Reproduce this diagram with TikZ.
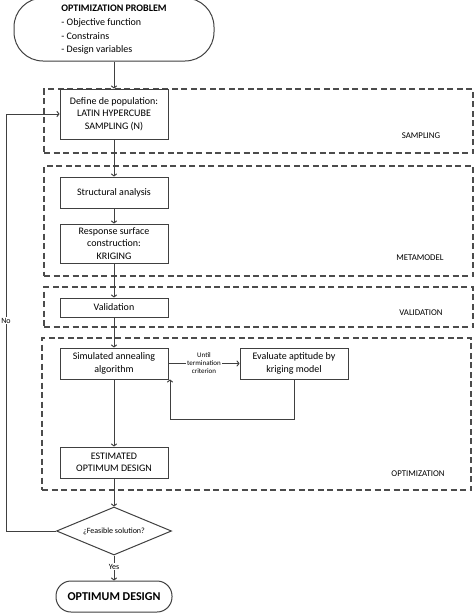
\documentclass[tikz,border=0pt]{standalone}
\usepackage{fontspec}
\setmainfont{Carlito}
\usetikzlibrary{arrows.meta,shapes.geometric}
\begin{document}
\begin{tikzpicture}[x=1pt,y=-1pt,
  line/.style={draw=black!75, line width=1pt},
  arr/.style={line, -{To[length=3pt,width=6pt]}},
  box/.style={line, rectangle, minimum width=108pt, align=center, inner sep=1pt, font=\fontsize{10}{12.5}\selectfont, text=black},
  grp/.style={draw=black!70, line width=1.1pt, dash pattern=on 6pt off 3.5pt, rectangle, inner sep=0pt},
  grplbl/.style={font=\fontsize{8.8}{10}\selectfont, inner sep=0pt},
  small/.style={font=\fontsize{7}{8}\selectfont, align=center, inner sep=1pt, fill=white}]
\useasboundingbox (0,0) rectangle (474,613);
\fill[white] (0,0) rectangle (474,613);
% group containers
\node[grp, minimum width=429pt, minimum height=64pt] (gS) at (258.5,121) {};
\node[grp, minimum width=429pt, minimum height=110pt] (gM) at (258.5,221) {};
\node[grp, minimum width=429pt, minimum height=40pt] (gV) at (258.5,307) {};
\node[grp, minimum width=429pt, minimum height=152pt] (gO) at (256.5,414) {};
\node[grplbl] (lS) at (421,136) {SAMPLING};
\node[grplbl] (lM) at (420,258) {METAMODEL};
\node[grplbl] (lV) at (421,313) {VALIDATION};
\node[grplbl] (lO) at (418,474) {OPTIMIZATION};
% start terminal
\node[line, rectangle, rounded corners=29pt, minimum width=200pt, minimum height=63pt, inner sep=0pt,
  font=\fontsize{10}{13.5}\selectfont] (opt) at (114,29.5)
  {\begin{tabular}{@{}l@{}}\multicolumn{1}{@{}c@{}}{\textbf{OPTIMIZATION PROBLEM}}\\[0.5pt] - Objective function\\ - Constrains\\ - Design variables\end{tabular}};
% process boxes
\node[box, minimum height=50pt] (def) at (114,114) {Define de population:\\LATIN HYPERCUBE\\SAMPLING (N)};
\node[box, minimum height=31pt] (str) at (114,192.5) {Structural analysis};
\node[box, minimum height=39pt] (rsc) at (114,243.5) {Response surface\\construction:\\KRIGING};
\node[box, minimum height=19pt] (val) at (114,307.5) {Validation};
\node[box, minimum height=31pt, font=\fontsize{10}{13}\selectfont] (sa) at (114,363.5) {Simulated annealing\\algorithm};
\node[box, minimum height=31pt, font=\fontsize{10}{13}\selectfont] (ev) at (294,363.5) {Evaluate aptitude by\\kriging model};
\node[box, minimum height=31pt] (est) at (114,462.5) {ESTIMATED\\OPTIMUM DESIGN};
\node[line, diamond, aspect=2.4, minimum width=115pt, minimum height=48pt, inner sep=0pt,
  font=\fontsize{8}{9}\selectfont] (dia) at (114,531) {¿Feasible solution?};
\node[line, rectangle, rounded corners=15pt, minimum width=116pt, minimum height=31pt, inner sep=0pt,
  font=\fontsize{12}{14}\selectfont\bfseries] (od) at (114,596.5) {OPTIMUM DESIGN};
% connectors
\coordinate (fb) at (170,419);
\coordinate (no) at (6,531);
\draw[arr] (opt.south) -- (def.north);
\draw[arr] (def) -- (str);
\draw[arr] (str) -- (rsc);
\draw[arr] (rsc) -- (val);
\draw[arr] (val) -- (sa);
\draw[arr] (sa) -- node[small] (until) {Until\\termination\\criterion} (ev);
\draw[arr] (ev.south) |- (fb) -- (fb |- sa.south);
\draw[arr] (sa) -- (est);
\draw[arr] (est) -- (dia);
\draw[arr] (dia.west) -- (no) |- node[pos=0.252, small, font=\fontsize{8}{9}\selectfont] (nolbl) {No} (def.west);
\draw[arr] (dia.south) -- node[small, font=\fontsize{8}{9}\selectfont, pos=0.45] (yes) {Yes} (od.north);
\end{tikzpicture}
\end{document}
